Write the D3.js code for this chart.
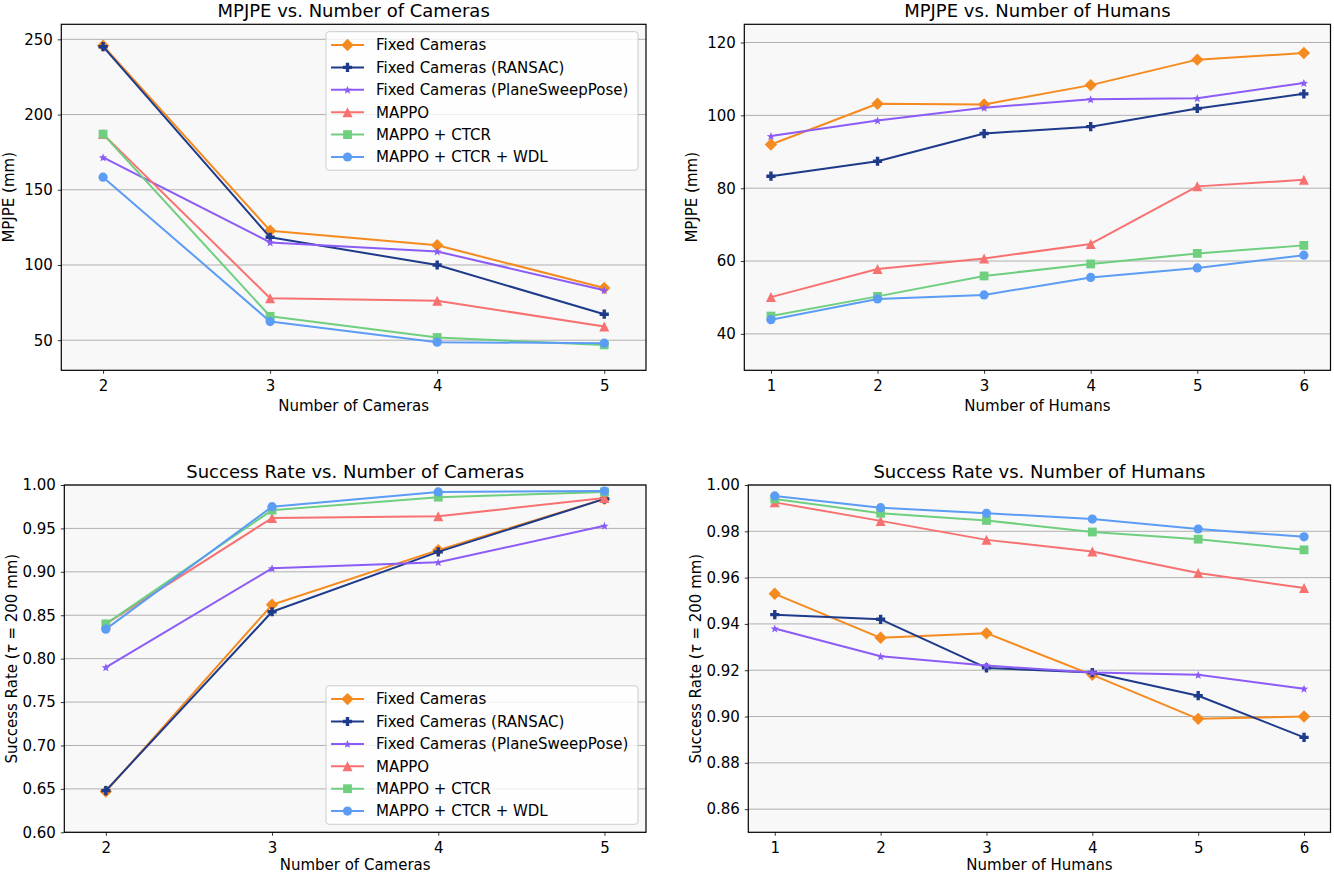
<!DOCTYPE html>
<html>
<head>
<meta charset="utf-8">
<script src="https://cdn.jsdelivr.net/npm/d3@7"></script>
<style>
  body { margin: 0; background: #fff; }
  text { font-family: "DejaVu Sans", sans-serif; fill: #000; }
</style>
</head>
<body>
<svg id="fig" width="1334" height="874"></svg>
<script>
// ---- data ----
const methods = [
  'Fixed Cameras',
  'Fixed Cameras (RANSAC)',
  'Fixed Cameras (PlaneSweepPose)',
  'MAPPO',
  'MAPPO + CTCR',
  'MAPPO + CTCR + WDL'
];
const cameraCounts = [2, 3, 4, 5];
const humanCounts = [1, 2, 3, 4, 5, 6];

// one row per method, same order as `methods`
const mpjpeByCameras = [
  [245.8, 122.8, 113.1, 84.7],
  [245.1, 118.4, 100.0, 67.3],
  [171.5, 115.0, 109.0, 83.2],
  [187.0, 77.9, 76.3, 59.1],
  [187.0, 65.9, 51.8, 46.9],
  [158.4, 62.4, 48.7, 48.0]
];
const mpjpeByHumans = [
  [92.0, 103.2, 103.0, 108.3, 115.3, 117.1],
  [83.3, 87.4, 95.0, 96.9, 101.9, 105.9],
  [94.3, 98.6, 102.1, 104.4, 104.7, 108.9],
  [50.1, 57.8, 60.7, 64.7, 80.5, 82.3],
  [44.9, 50.3, 55.9, 59.2, 62.1, 64.3],
  [43.9, 49.6, 50.7, 55.5, 58.1, 61.6]
];
const successByCameras = [
  [0.647, 0.862, 0.925, 0.984],
  [0.648, 0.854, 0.923, 0.984],
  [0.790, 0.904, 0.911, 0.953],
  [0.840, 0.962, 0.964, 0.985],
  [0.840, 0.971, 0.986, 0.992],
  [0.834, 0.975, 0.992, 0.993]
];
const successByHumans = [
  [0.953, 0.934, 0.936, 0.918, 0.899, 0.900],
  [0.944, 0.942, 0.921, 0.919, 0.909, 0.891],
  [0.938, 0.926, 0.922, 0.919, 0.918, 0.912],
  [0.9925, 0.9845, 0.9763, 0.9713, 0.962, 0.9555],
  [0.994, 0.9878, 0.9847, 0.9797, 0.9766, 0.972],
  [0.9953, 0.9902, 0.9878, 0.9853, 0.981, 0.9776]
];

const mpjpeCamTicks = [50, 100, 150, 200, 250];
const mpjpeHumTicks = [40, 60, 80, 100, 120];
const successCamTicks = [0.60, 0.65, 0.70, 0.75, 0.80, 0.85, 0.90, 0.95, 1.00];
const successHumTicks = [0.86, 0.88, 0.90, 0.92, 0.94, 0.96, 0.98, 1.00];

// ---- styling ----
const colors = ['#f58a1f', '#1e3a8a', '#8b5cf6', '#f87171', '#6fcf7f', '#5b9cf5'];
const markers = ['diamond', 'plus', 'star', 'triangle', 'square', 'circle'];

const successLabel = 'Success Rate (τ = 200 mm)';

const panels = [
  {
    title: 'MPJPE vs. Number of Cameras', xLabel: 'Number of Cameras', yLabel: 'MPJPE (mm)',
    xs: cameraCounts, series: mpjpeByCameras, xDomain: [1.75, 5.25], yDomain: [30, 260],
    yTicks: mpjpeCamTicks, fmt: d3.format('d'),
    box: { l: 61.3, r: 646, t: 24.3, b: 370.3 }, legend: 'upper', xLabelOff: 40.5
  },
  {
    title: 'MPJPE vs. Number of Humans', xLabel: 'Number of Humans', yLabel: 'MPJPE (mm)',
    xs: humanCounts, series: mpjpeByHumans, xDomain: [0.75, 6.25], yDomain: [30, 125],
    yTicks: mpjpeHumTicks, fmt: d3.format('d'),
    box: { l: 744.3, r: 1330.5, t: 24.3, b: 370.3 }, xLabelOff: 40.5
  },
  {
    title: 'Success Rate vs. Number of Cameras', xLabel: 'Number of Cameras', yLabel: successLabel,
    xs: cameraCounts, series: successByCameras, xDomain: [1.75, 5.25], yDomain: [0.60, 1.00],
    yTicks: successCamTicks, fmt: d3.format('.2f'),
    box: { l: 64.3, r: 646, t: 485, b: 832.3 }, legend: 'lower', xLabelOff: 37.5
  },
  {
    title: 'Success Rate vs. Number of Humans', xLabel: 'Number of Humans', yLabel: successLabel,
    xs: humanCounts, series: successByHumans, xDomain: [0.75, 6.25], yDomain: [0.85, 1.00],
    yTicks: successHumTicks, fmt: d3.format('.2f'),
    box: { l: 748.3, r: 1330.5, t: 485, b: 832.3 }, xLabelOff: 37.5
  }
];

function markerPath(type) {
  switch (type) {
    case 'diamond': {
      const r = 6.2;
      return `M0,${-r}L${r},0L0,${r}L${-r},0Z`;
    }
    case 'plus': {
      const a = 4.6, w = 1.7;
      return `M${-w},${-a}H${w}V${-w}H${a}V${w}H${w}V${a}H${-w}V${w}H${-a}V${-w}H${-w}Z`;
    }
    case 'star': {
      const R = 4.4, r = 1.9;
      const pts = d3.range(10).map(i => {
        const ang = -Math.PI / 2 + i * Math.PI / 5;
        const rad = i % 2 ? r : R;
        return [rad * Math.cos(ang), rad * Math.sin(ang) + 0.4];
      });
      return 'M' + pts.map(p => p.join(',')).join('L') + 'Z';
    }
    case 'triangle': {
      const h = 5;
      return `M0,${-h}L${h},${h}L${-h},${h}Z`;
    }
    case 'square': {
      const s = 4.4;
      return `M${-s},${-s}H${s}V${s}H${-s}Z`;
    }
    default:
      return d3.symbol(d3.symbolCircle, Math.PI * 4.6 * 4.6)();
  }
}

const svg = d3.select('#fig');
svg.append('rect').attr('width', 1334).attr('height', 874).attr('fill', '#fff');

function drawPanel(p) {
  const { l, r, t, b } = p.box;
  const x = d3.scaleLinear().domain(p.xDomain).range([l, r]);
  const y = d3.scaleLinear().domain(p.yDomain).range([b, t]);
  const g = svg.append('g');

  g.append('rect')
    .attr('x', l).attr('y', t).attr('width', r - l).attr('height', b - t)
    .attr('fill', '#f8f8f8');

  // horizontal grid
  g.append('g')
    .selectAll('line')
    .data(p.yTicks)
    .enter()
    .append('line')
      .attr('x1', l).attr('x2', r)
      .attr('y1', d => y(d)).attr('y2', d => y(d))
      .attr('stroke', '#b0b0b0')
      .attr('stroke-width', 1);

  // y axis
  const yAxis = g.append('g')
    .attr('transform', `translate(${l},0)`)
    .call(d3.axisLeft(y).tickValues(p.yTicks).tickFormat(p.fmt).tickSize(3.5).tickPadding(5));
  // x axis
  const xAxis = g.append('g')
    .attr('transform', `translate(0,${b})`)
    .call(d3.axisBottom(x).tickValues(p.xs).tickFormat(d3.format('d')).tickSize(3.5).tickPadding(5));

  [yAxis, xAxis].forEach(ax => {
    ax.select('.domain').remove();
    ax.selectAll('.tick line').attr('stroke', '#000').attr('stroke-width', 0.8);
    ax.selectAll('.tick text')
      .attr('font-size', 15)
      .attr('font-family', '"DejaVu Sans", sans-serif')
      .attr('fill', '#000');
  });
  xAxis.selectAll('.tick text').attr('dy', null).attr('y', 21);

  // lines and markers
  const line = d3.line()
    .x((d, i) => x(p.xs[i]))
    .y(d => y(d));

  p.series.forEach((vals, k) => {
    const s = g.append('g');
    s.append('path')
      .datum(vals)
      .attr('d', line)
      .attr('fill', 'none')
      .attr('stroke', colors[k])
      .attr('stroke-width', 2)
      .attr('stroke-linejoin', 'round');
    s.selectAll('path.mk')
      .data(vals)
      .enter()
      .append('path')
        .attr('class', 'mk')
        .attr('d', markerPath(markers[k]))
        .attr('transform', (d, i) => `translate(${x(p.xs[i])},${y(d)})`)
        .attr('fill', colors[k]);
  });

  // frame
  g.append('rect')
    .attr('x', l).attr('y', t).attr('width', r - l).attr('height', b - t)
    .attr('fill', 'none')
    .attr('stroke', '#000')
    .attr('stroke-width', 1.2);

  // titles
  g.append('text')
    .attr('x', (l + r) / 2).attr('y', t - 7)
    .attr('text-anchor', 'middle')
    .attr('font-size', 18)
    .text(p.title);

  g.append('text')
    .attr('x', (l + r) / 2).attr('y', b + p.xLabelOff)
    .attr('text-anchor', 'middle')
    .attr('font-size', 15)
    .text(p.xLabel);

  const yl = g.append('text')
    .attr('transform', `translate(${l - 47.5},${(t + b) / 2}) rotate(-90)`)
    .attr('text-anchor', 'middle')
    .attr('font-size', 15);
  if (p.yLabel === successLabel) {
    yl.append('tspan').text('Success Rate (');
    yl.append('tspan').attr('font-style', 'italic').text('τ');
    yl.append('tspan').text(' = 200 mm)');
  } else {
    yl.text(p.yLabel);
  }

  if (p.legend) drawLegend(g, p);
}

function drawLegend(g, p) {
  const { r, t, b } = p.box;
  const w = 312, h = 138.5, step = 22.4;
  const lx = r - 8 - w;
  const ly = p.legend === 'upper' ? t + 7.4 : b - 8 - h;
  const lg = g.append('g').attr('transform', `translate(${lx},${ly})`);

  lg.append('rect')
    .attr('width', w).attr('height', h)
    .attr('rx', 3).attr('ry', 3)
    .attr('fill', '#fff').attr('fill-opacity', 0.8)
    .attr('stroke', '#cccccc').attr('stroke-width', 1);

  methods.forEach((name, k) => {
    const cy = 13.3 + k * step;
    lg.append('line')
      .attr('x1', 5).attr('x2', 38)
      .attr('y1', cy).attr('y2', cy)
      .attr('stroke', colors[k]).attr('stroke-width', 2);
    lg.append('path')
      .attr('d', markerPath(markers[k]))
      .attr('transform', `translate(21.5,${cy})`)
      .attr('fill', colors[k]);
    lg.append('text')
      .attr('x', 50).attr('y', cy + 5.4)
      .attr('font-size', 15)
      .text(name);
  });
}

panels.forEach(drawPanel);
</script>
</body>
</html>
